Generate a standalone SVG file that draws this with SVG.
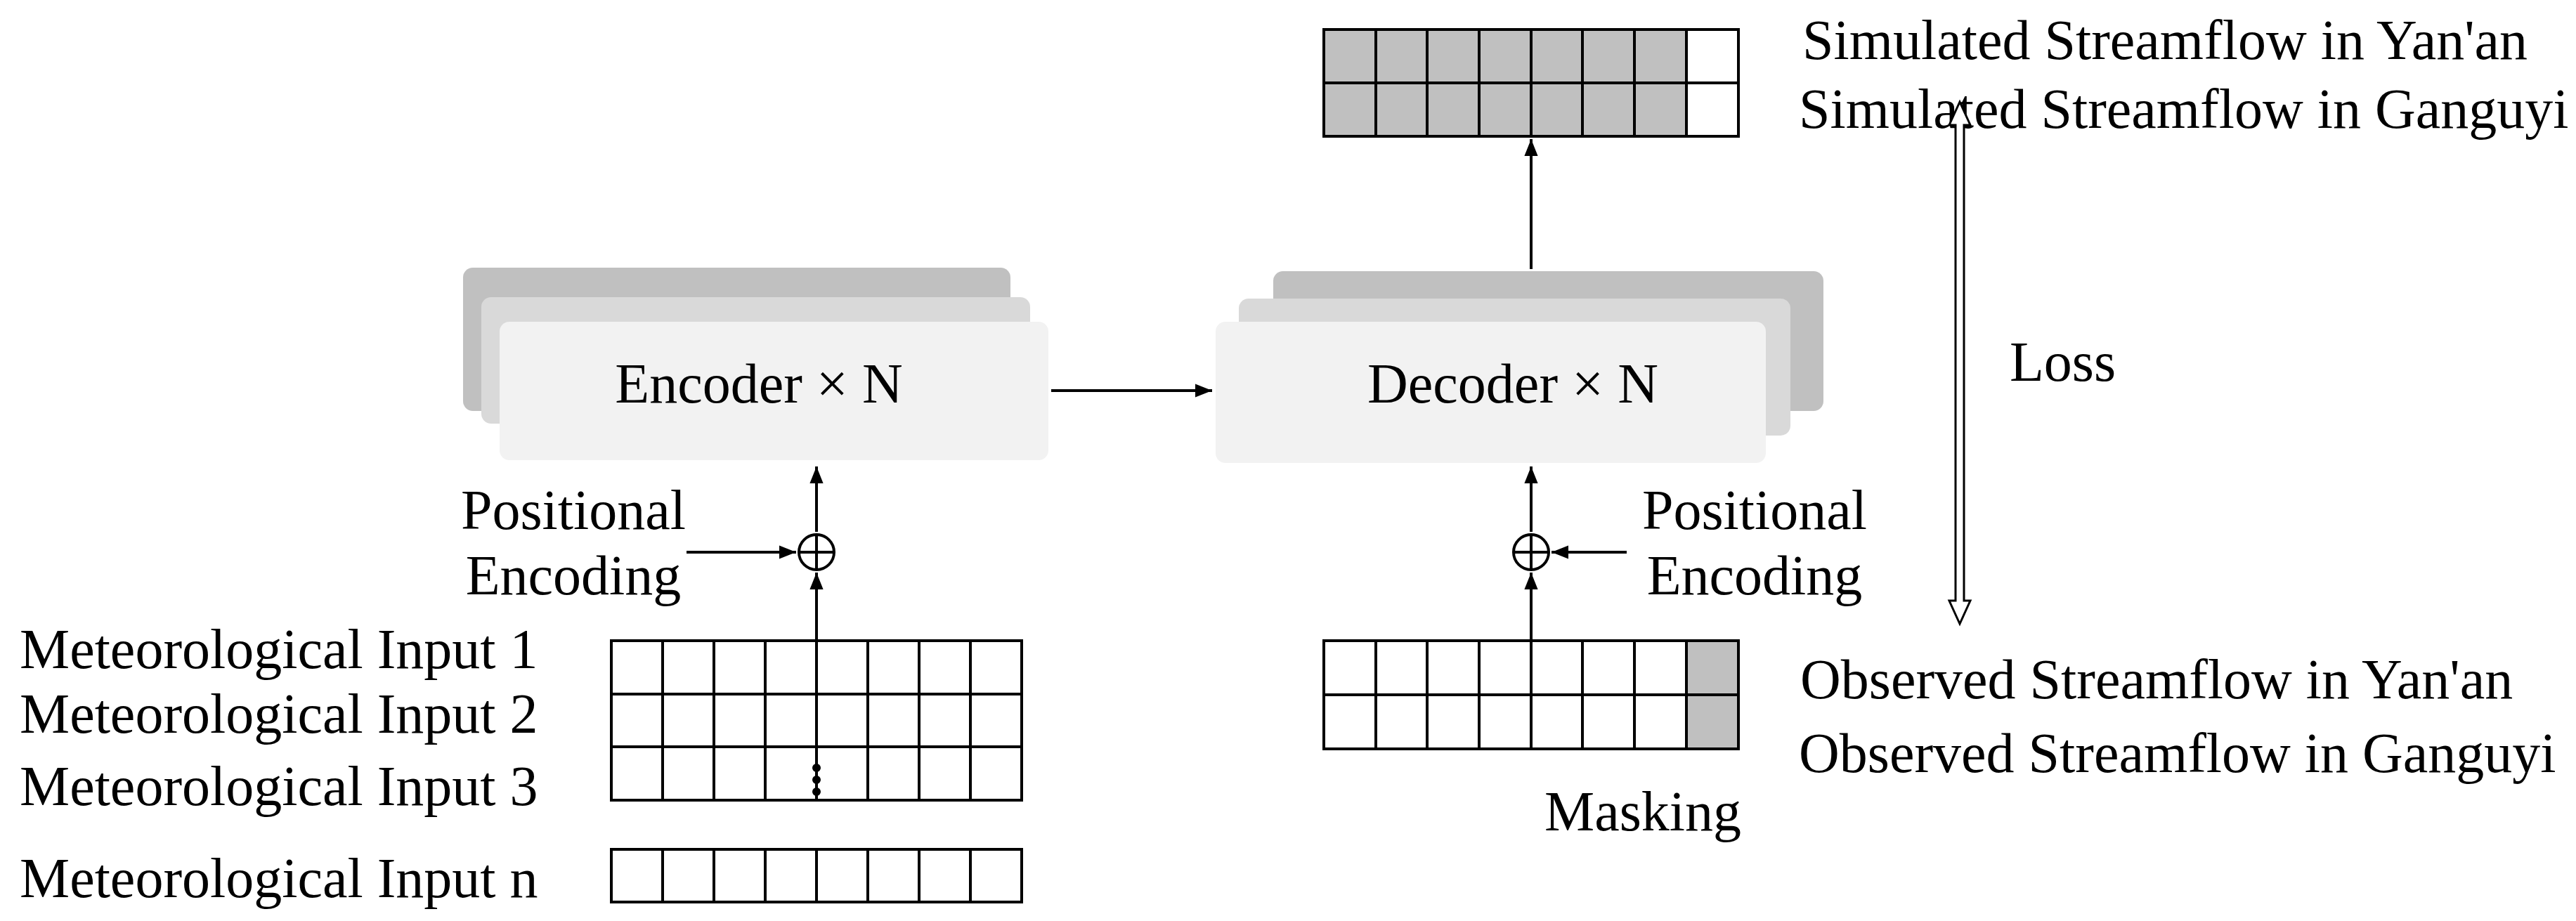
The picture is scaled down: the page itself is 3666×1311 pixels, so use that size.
<svg xmlns="http://www.w3.org/2000/svg" width="3666" height="1311" viewBox="0 0 3666 1311">
<defs>
<marker id="ah" viewBox="0 0 10 10" refX="10" refY="5" markerWidth="6" markerHeight="6" orient="auto" markerUnits="strokeWidth"><path d="M0,1 L10,5 L0,9 z" fill="#000"/></marker>
<pattern id="cell" width="73" height="75.7" patternUnits="userSpaceOnUse"><rect width="73" height="75.7" fill="none" stroke="#000" stroke-width="4"/></pattern>
</defs>
<style>
text{font-family:"Liberation Serif","Times New Roman",serif;font-size:80px;fill:#000}
.c{text-anchor:middle}
.ln{stroke:#000;stroke-width:4;fill:none}
.g{stroke:#000;stroke-width:4}
</style>
<rect width="3666" height="1311" fill="#fff"/>
<g id="encoder">
<rect x="659" y="381" width="779" height="204" rx="14" fill="#c0c0c0"/>
<rect x="685" y="423" width="781" height="180" rx="14" fill="#d9d9d9"/>
<rect x="711" y="458" width="781" height="197" rx="14" fill="#f2f2f2"/>
<text class="c" x="1080" y="573">Encoder × N</text>
</g>
<g id="decoder">
<rect x="1812" y="386" width="783" height="199" rx="14" fill="#c0c0c0"/>
<rect x="1763" y="425" width="785" height="195" rx="14" fill="#d9d9d9"/>
<rect x="1730" y="458" width="783" height="201" rx="14" fill="#f2f2f2"/>
<text class="c" x="2153" y="573">Decoder × N</text>
</g>
<g id="input-grid" class="g">
<rect x="870" y="912" width="584" height="227" fill="#fff"/>
<path class="ln" d="M870,988H1454M870,1063H1454M943,912V1139M1016,912V1139M1089,912V1139M1162,912V1139M1235,912V1139M1308,912V1139M1381,912V1139"/>
<rect x="870" y="1209" width="584" height="75" fill="#fff"/>
<path class="ln" d="M943,1209V1284M1016,1209V1284M1089,1209V1284M1162,1209V1284M1235,1209V1284M1308,1209V1284M1381,1209V1284"/>
<circle cx="1162" cy="1093" r="4"/><circle cx="1162" cy="1110" r="4"/><circle cx="1162" cy="1127" r="4"/>
</g>
<g id="input-labels">
<text x="28" y="951">Meteorological Input 1</text>
<text x="28" y="1043">Meteorological Input 2</text>
<text x="28" y="1146">Meteorological Input 3</text>
<text x="28" y="1277">Meteorological Input n</text>
</g>
<g id="output-grid" class="g">
<rect x="1884" y="42" width="590" height="152" fill="#c0c0c0"/>
<rect x="2400" y="42" width="74" height="152" fill="#fff"/>
<path class="ln" d="M1884,118H2474M1958,42V194M2031,42V194M2105,42V194M2179,42V194M2252,42V194M2326,42V194M2400,42V194"/>
</g>
<g id="masked-grid" class="g">
<rect x="1884" y="912" width="590" height="154" fill="#fff"/>
<rect x="2400" y="912" width="74" height="154" fill="#c0c0c0"/>
<path class="ln" d="M1884,989H2474M1958,912V1066M2031,912V1066M2105,912V1066M2179,912V1066M2252,912V1066M2326,912V1066M2400,912V1066"/>
</g>
<g id="pe-enc">
<circle cx="1162" cy="786" r="25" fill="#fff" stroke="#000" stroke-width="4"/>
<path class="ln" d="M1137,786H1187M1162,761V811"/>
<text class="c" x="816" y="753">Positional</text>
<text class="c" x="816" y="846">Encoding</text>
</g>
<g id="pe-dec">
<circle cx="2179" cy="786" r="25" fill="#fff" stroke="#000" stroke-width="4"/>
<path class="ln" d="M2154,786H2204M2179,761V811"/>
<text class="c" x="2497" y="753">Positional</text>
<text class="c" x="2497" y="846">Encoding</text>
</g>
<g id="texts">
<text x="2565" y="84">Simulated Streamflow in Yan'an</text>
<text x="2560" y="182">Simulated Streamflow in Ganguyi</text>
<text x="2562" y="994">Observed Streamflow in Yan'an</text>
<text x="2560" y="1099">Observed Streamflow in Ganguyi</text>
<text class="c" x="2338" y="1182">Masking</text>
<text x="2860" y="542">Loss</text>
</g>
<g id="connectors">
<path class="ln" marker-end="url(#ah)" d="M1162,912V815"/>
<path class="ln" marker-end="url(#ah)" d="M1162,757V664"/>
<path class="ln" marker-end="url(#ah)" d="M977,786H1133"/>
<path class="ln" marker-end="url(#ah)" d="M1496,556H1725"/>
<path class="ln" marker-end="url(#ah)" d="M2179,912V815"/>
<path class="ln" marker-end="url(#ah)" d="M2179,757V664"/>
<path class="ln" marker-end="url(#ah)" d="M2315,786H2208"/>
<path class="ln" marker-end="url(#ah)" d="M2179,383V198"/>
<path d="M2789,145L2774,178H2783V855H2774L2789,888L2804,855H2795V178H2804Z" fill="#fff" stroke="#000" stroke-width="3"/>
</g>
</svg>
